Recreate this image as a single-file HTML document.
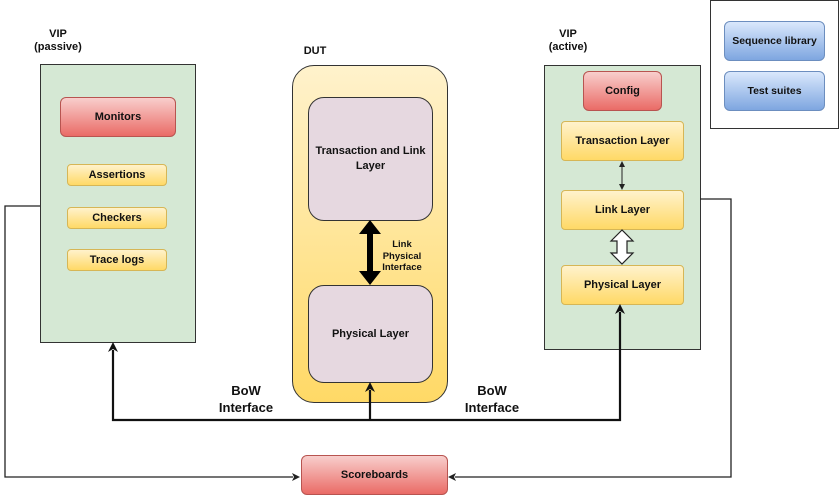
<!DOCTYPE html>
<html><head><style>
body{margin:0;width:840px;height:496px;background:#fff;position:relative;overflow:hidden;font-family:"Liberation Sans",sans-serif;font-weight:bold;color:#111}
.a{position:absolute;box-sizing:border-box;display:flex;align-items:center;justify-content:center;text-align:center;font-size:11px}
.g{background:#d5e8d4;border:1.5px solid #333}
.r{background:linear-gradient(#f8cecc,#ea6b66);border:1px solid #b85450;border-radius:6px}
.y{background:linear-gradient(#fff2cc,#ffd966);border:1px solid #d6b656;border-radius:4px}
.b{background:linear-gradient(#dae8fc,#7ea6e0);border:1px solid #6c8ebf;border-radius:6px}
.p{background:#e6d8e0;border:1.5px solid #333;border-radius:16px}
.t{position:absolute;font-size:11px;text-align:center;line-height:13px}
.big{font-size:13px;line-height:17px}
</style></head><body>
<div class="a g" style="left:40px;top:64px;width:156px;height:279px"></div>
<div class="a r" style="left:60px;top:97px;width:116px;height:40px">Monitors</div>
<div class="a y" style="left:67px;top:164px;width:100px;height:22px">Assertions</div>
<div class="a y" style="left:67px;top:207px;width:100px;height:22px">Checkers</div>
<div class="a y" style="left:67px;top:249px;width:100px;height:22px">Trace logs</div>
<div class="t" style="left:28px;top:28px;width:60px">VIP<br>(passive)</div>

<div class="a" style="left:292px;top:65px;width:156px;height:338px;border:1.5px solid #333;border-radius:22px;background:linear-gradient(#fff2cc,#ffd966)"></div>
<div class="t" style="left:300px;top:45px;width:30px">DUT</div>
<div class="a p" style="left:308px;top:97px;width:125px;height:124px;line-height:15px">Transaction and Link<br>Layer</div>
<div class="a p" style="left:308px;top:285px;width:125px;height:98px">Physical Layer</div>
<div class="t" style="left:374px;top:239px;width:56px;font-size:9.5px;line-height:11.5px">Link<br>Physical<br>Interface</div>

<div class="a g" style="left:544px;top:65px;width:157px;height:285px"></div>
<div class="t" style="left:538px;top:28px;width:60px">VIP<br>(active)</div>
<div class="a r" style="left:583px;top:71px;width:79px;height:40px">Config</div>
<div class="a y" style="left:561px;top:121px;width:123px;height:40px">Transaction Layer</div>
<div class="a y" style="left:561px;top:190px;width:123px;height:40px">Link Layer</div>
<div class="a y" style="left:561px;top:265px;width:123px;height:40px">Physical Layer</div>

<div class="a" style="left:710px;top:0px;width:129px;height:129px;border:1.5px solid #333;background:#fff"></div>
<div class="a b" style="left:724px;top:21px;width:101px;height:40px;font-size:10.5px">Sequence library</div>
<div class="a b" style="left:724px;top:71px;width:101px;height:40px;font-size:10.5px">Test suites</div>

<div class="a r" style="left:301px;top:455px;width:147px;height:40px">Scoreboards</div>
<div class="t big" style="left:206px;top:382px;width:80px">BoW<br>Interface</div>
<div class="t big" style="left:452px;top:382px;width:80px">BoW<br>Interface</div>

<svg width="840" height="496" style="position:absolute;left:0;top:0" fill="none">
<g stroke="#222" stroke-width="1.3">
<polyline points="40,206 5,206 5,477 293,477"/>
<polyline points="700,199 731,199 731,477 455,477"/>
</g>
<polygon points="300,477 292,473 294,477 292,481" fill="#222"/>
<polygon points="448,477 456,473 454,477 456,481" fill="#222"/>
<g stroke="#111" stroke-width="2.2">
<polyline points="113,350 113,420 620,420 620,312"/>
<line x1="370" y1="420" x2="370" y2="390"/>
</g>
<polygon points="113,342 108,352 113,349 118,352" fill="#111"/>
<polygon points="370,382 365,392 370,389 375,392" fill="#111"/>
<polygon points="620,304 615,314 620,311 625,314" fill="#111"/>
<line x1="370" y1="232" x2="370" y2="274" stroke="#000" stroke-width="6"/>
<polygon points="370,220 359,234 381,234" fill="#000"/>
<polygon points="370,285 359,271 381,271" fill="#000"/>
<line x1="622" y1="165" x2="622" y2="186" stroke="#222" stroke-width="1"/>
<polygon points="622,161 619,167 625,167" fill="#222"/>
<polygon points="622,190 619,184 625,184" fill="#222"/>
<polygon points="622,230 611,241 617,241 617,253 611,253 622,264 633,253 627,253 627,241 633,241" fill="#fff" stroke="#222" stroke-width="1.2"/>
</svg>
</body></html>
